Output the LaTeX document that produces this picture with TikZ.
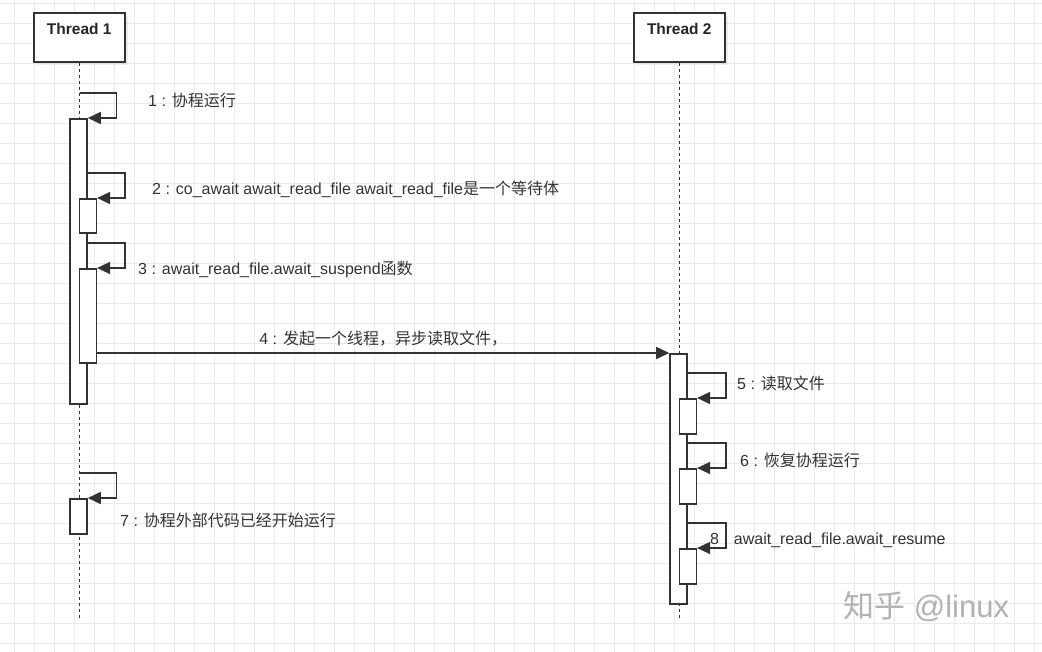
\documentclass[tikz,border=0pt]{standalone}
\usepackage{fontspec}
\setmainfont{Liberation Sans}
\newfontfamily\cjk{Noto Sans CJK SC}
\usepackage{tikz}
\usetikzlibrary{arrows.meta, shadows}
\definecolor{seqgray}{RGB}{51,51,51}
\definecolor{gridgray}{RGB}{234,234,234}
\newcommand{\zh}[1]{{\cjk #1}}

\begin{document}
\begin{tikzpicture}[x=1pt, y=-1pt,
  gridline/.style={draw=gridgray, line width=0.8pt},
  thread/.style={draw=seqgray, fill=white, line width=1.6pt, anchor=north west,
    minimum width=91pt, minimum height=49pt, inner ysep=10pt, text height=11pt, text depth=17pt,
    font=\bfseries\fontsize{15.5}{18}\selectfont, text=black!85,
    drop shadow={shadow xshift=3pt, shadow yshift=-3pt, opacity=0.12}},
  life/.style={draw=seqgray, line width=1.7pt, dash pattern=on 3pt off 3pt},
  bar/.style={draw=seqgray, fill=white, line width=1.6pt, minimum width=17pt, inner sep=0pt, anchor=north},
  msg/.style={draw=seqgray, line width=1.6pt, -{Triangle[length=13pt, width=12pt]}},
  lbl/.style={anchor=west, inner sep=0pt, text=seqgray, font=\fontsize{16}{18}\selectfont}]
 \useasboundingbox (0,0) rectangle (1042,652);
 \fill[white] (0,0) rectangle (1042,652);
 % grid
 \foreach \gx in {14,34,...,1034}{
   \draw[gridline] (\gx,0) -- (\gx,652);
 }
 \foreach \gy in {3,23,...,643}{
   \draw[gridline] (0,\gy) -- (1042,\gy);
 }
 % threads and lifelines
 \node[thread] (t1) at (33,12) {Thread 1};
 \node[thread] (t2) at (633,12) {Thread 2};
 \coordinate (t1end) at (79.5,620);
 \coordinate (t2end) at (679.5,620);
 \draw[life] (t1.south -| t1end) -- (t1end);
 \draw[life] (t2.south -| t2end) -- (t2end);
 % activations
 \node[bar, minimum height=285pt] (a1) at (78.5,118) {};
 \node[bar, minimum height=34pt, anchor=north west] (a2) at (78.5,198) {};
 \node[bar, minimum height=94pt, anchor=north west] (a3) at (78.5,268) {};
 \node[bar, minimum height=35pt] (a7) at (78.5,498) {};
 \node[bar, minimum height=250pt] (b1) at (678.5,353) {};
 \node[bar, minimum height=35pt, anchor=north west] (b5) at (678.5,398) {};
 \node[bar, minimum height=35pt, anchor=north west] (b6) at (678.5,468) {};
 \node[bar, minimum height=35pt, anchor=north west] (b8) at (678.5,548) {};
 % messages
 \draw[msg] (t1end |- 0,93) -- ++(37,0) |- (a1.north east);
 \draw[msg] (a1.east |- 0,173) -- ++(37,0) |- (a2.north east);
 \draw[msg] (a1.east |- 0,243) -- ++(37,0) |- (a3.north east);
 \draw[msg] (a3.east |- 0,353) -- (b1.north west) node[lbl, midway, anchor=south, yshift=6pt] (l4) {4 : \zh{发起一个线程，异步读取文件，}};
 \draw[msg] (b1.east |- 0,373) -- ++(38,0) |- (b5.north east);
 \draw[msg] (b1.east |- 0,443) -- ++(38,0) |- (b6.north east);
 \draw[msg] (b1.east |- 0,523) -- ++(38,0) |- (b8.north east);
 \draw[msg] (t1end |- 0,473) -- ++(37,0) |- (a7.north east);
 % labels
 \node[lbl] (l1) at (148,100) {1 : \zh{协程运行}};
 \node[lbl] (l2) at (152,189) {2 : co\_await await\_read\_file await\_read\_file\zh{是一个等待体}};
 \node[lbl] (l3) at (138,269) {3 : await\_read\_file.await\_suspend\zh{函数}};
 \node[lbl] (l5) at (737,383) {5 : \zh{读取文件}};
 \node[lbl] (l6) at (740,460) {6 : \zh{恢复协程运行}};
 \node[lbl] (l7) at (120,520) {7 : \zh{协程外部代码已经开始运行}};
 \node[lbl] (l8) at (710,540) {8 : await\_read\_file.await\_resume};
 \node[anchor=west, inner sep=0pt, text=black!30, font=\fontsize{31}{34}\selectfont] (wm) at (843,607) {\zh{知乎} @linux};
\end{tikzpicture}
\end{document}
